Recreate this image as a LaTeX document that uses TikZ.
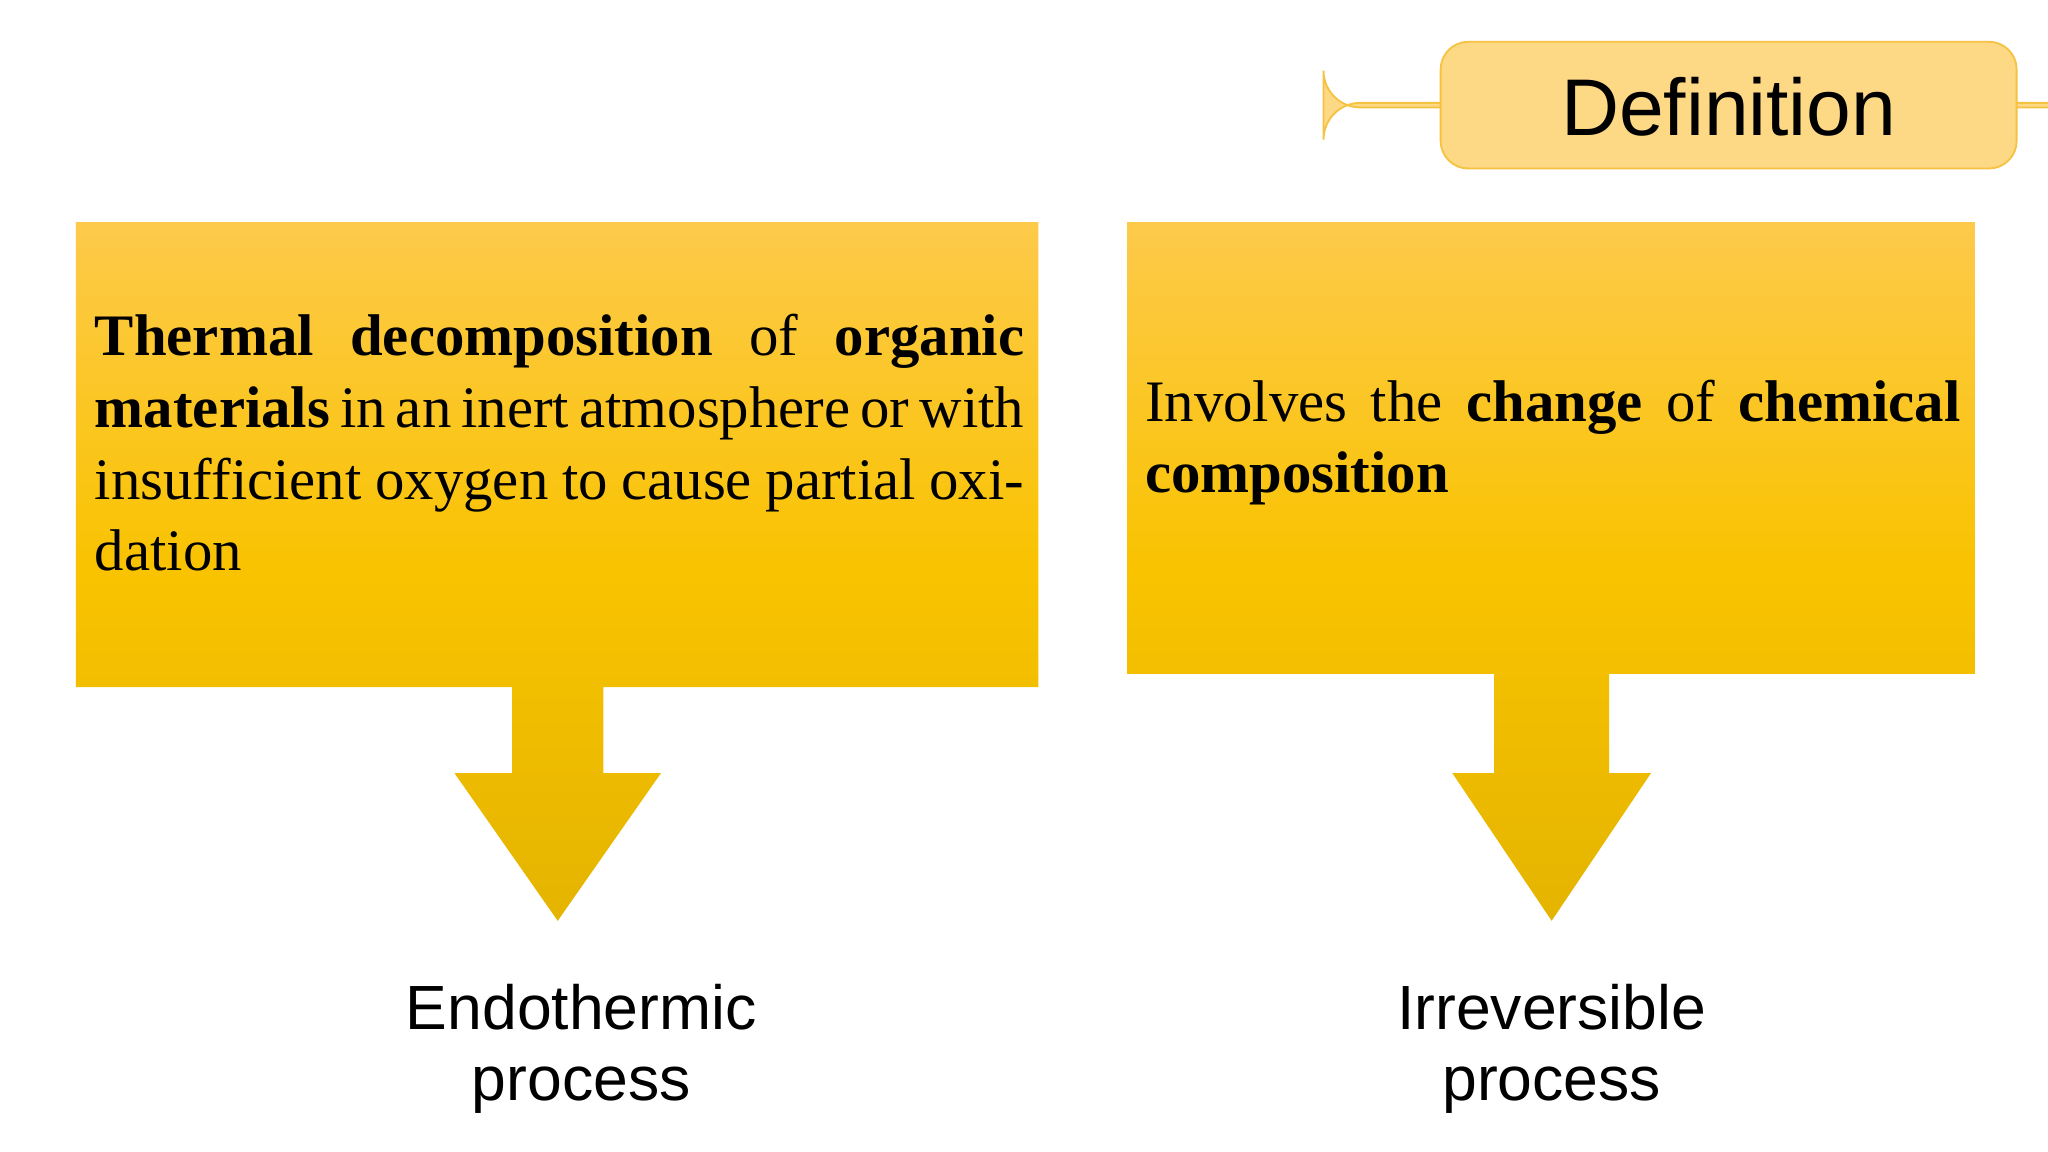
\documentclass[tikz,border=0pt]{standalone}
\usepackage{fontspec}
\setmainfont{Liberation Serif}
\setsansfont{Liberation Sans}
\usetikzlibrary{positioning}
\definecolor{goldtop}{HTML}{FDCA4B}
\definecolor{goldmid}{HTML}{F9C300}
\definecolor{goldlow}{HTML}{E4B400}
\definecolor{defill}{HTML}{FDD985}
\definecolor{deline}{HTML}{F5C242}
\tikzset{
  slab/.style={top color=goldtop, bottom color=goldlow, middle color=goldmid, draw=none},
  para/.style={font=\fontsize{12.8pt}{15.6pt}\selectfont, align=justify, inner sep=0pt, anchor=north west},
  result/.style={font=\sffamily\fontsize{13.6pt}{15.4pt}\selectfont, align=center},
}
\begin{document}
\begin{tikzpicture}[x=0.01cm, y=-0.01cm]
  \useasboundingbox (0,0) rectangle (1568,882);
  % Definition tag
  \node [draw=deline, fill=defill, rounded corners=8pt, minimum width=441\pgflinewidth,
    inner sep=0pt] (defbox) at (1323.5,80.5) {};
  \draw [draw=deline, fill=defill, rounded corners=6pt] (1103,32) rectangle (1544,129);
  \node [font=\sffamily\fontsize{17.5pt}{20pt}\selectfont] (deftext) at (1323.5,82) {Definition};
  % Left box with arrow
  \shade [slab] (58,170) -- (795,170) -- (795,526) -- (462,526) -- (462,592) -- (506,592)
    -- (427,705) -- (348,592) -- (392,592) -- (392,526) -- (58,526) -- cycle;
  \node [para, text width=7.11cm] (lefttext) at (72,240)
    {\textbf{Thermal decomposition} of \textbf{organic materials} in an inert atmosphere or
     with insufficient oxygen to cause partial oxidation};
  % Right box with arrow
  \shade [slab] (863,170) -- (1512,170) -- (1512,516) -- (1232,516) -- (1232,592) -- (1264,592)
    -- (1188,705) -- (1112,592) -- (1144,592) -- (1144,516) -- (863,516) -- cycle;
  \node [para, text width=6.24cm] (righttext) at (876,290)
    {Involves the \textbf{change} of \textbf{chemical composition}};
  % Results
  \node [result] (endo) at (445,803) {Endothermic\\process};
  \node [result] (irrev) at (1188,803) {Irreversible\\process};
\end{tikzpicture}
\end{document}
